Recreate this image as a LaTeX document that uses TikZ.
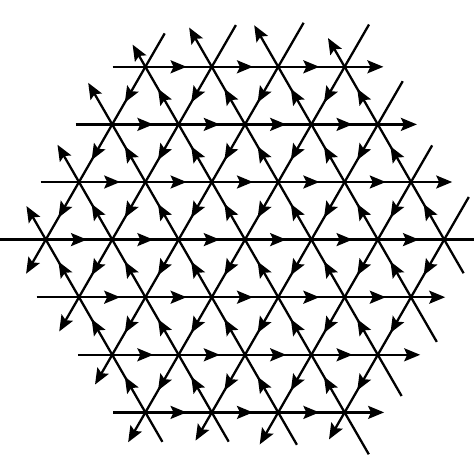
\documentclass[tikz,border=0pt]{standalone}
\usetikzlibrary{arrows.meta,decorations.markings,calc}
\tikzset{
  lat/.style={line width=2.3pt, black},
  midarrow/.style={lat, postaction={decorate},
    decoration={markings, mark=at position 0.62 with {\arrow{Stealth[length=16pt,width=13pt,inset=3pt]}}}},
  endarrow/.style={lat, -{Stealth[length=16pt,width=13pt,inset=3pt]}},
}
\begin{document}
\begin{tikzpicture}[x=1pt,y=-1pt]
\useasboundingbox (0,0) rectangle (474,474);
\def\A{66.4}\def\H{57.6}\def\CX{245}\def\CY{239.6}
% lattice vertices v<Q><R>, Q=q+3, R=r+3
\foreach \q in {-3,...,3}{
  \foreach \r in {-3,...,3}{
    \pgfmathtruncatemacro\s{abs(\q+\r)}
    \ifnum\s<4
      \pgfmathtruncatemacro\Q{\q+3}
      \pgfmathtruncatemacro\R{\r+3}
      \coordinate (v\Q\R) at ({\CX+(\q+\r/2)*\A},{\CY+\r*\H});
    \fi
  }
}
% horizontal lines (arrows to the right)
\foreach \r/\eL/\eR in {-3/32.9/38.8, -2/36.7/39.1, -1/38.3/41.2, 1/42.3/34.2, 2/34.4/42.4, 3/32.3/39.5}{
  \pgfmathtruncatemacro\qa{max(-3,-3-\r)}
  \pgfmathtruncatemacro\qb{min(3,3-\r)}
  \pgfmathtruncatemacro\R{\r+3}
  \pgfmathtruncatemacro\Qa{\qa+3}
  \pgfmathtruncatemacro\Qb{\qb+3}
  \pgfmathtruncatemacro\Qc{\Qb-1}
  \coordinate (hl\R) at ($(v\Qa\R)+(-\eL,0)$);
  \coordinate (hr\R) at ($(v\Qb\R)+(\eR,0)$);
  \draw[lat] (hl\R) -- (v\Qa\R);
  \foreach \Q in {\Qa,...,\Qc}{
    \pgfmathtruncatemacro\Qn{\Q+1}
    \draw[midarrow] (v\Q\R) -- (v\Qn\R);
  }
  \draw[endarrow] (v\Qb\R) -- (hr\R);
}
% middle horizontal line, across the whole width
\coordinate (hl3) at (0,\CY);
\coordinate (hr3) at (474,\CY);
\draw[lat] (hl3) -- (v03);
\foreach \Q in {0,...,5}{
  \pgfmathtruncatemacro\Qn{\Q+1}
  \draw[midarrow] (v\Q3) -- (v\Qn3);
}
\draw[lat] (v63) -- (hr3);
% "\" lines (constant q), arrows up-left
\foreach \q/\eT/\eB in {-3/38.7/34, -2/43/33.8, -1/48/37.4, 0/25.6/48.4, 1/45.3/47.6, 2/48/51.6, 3/33.2/38.8}{
  \pgfmathtruncatemacro\Q{\q+3}
  \pgfmathtruncatemacro\Ra{max(-3,-3-\q)+3}
  \pgfmathtruncatemacro\Rb{min(3,3-\q)+3}
  \pgfmathtruncatemacro\Rc{\Rb-1}
  \coordinate (bt\Q) at ($(v\Q\Ra)+({-0.5*\eT},{-0.866*\eT})$);
  \coordinate (bb\Q) at ($(v\Q\Rb)+({0.5*\eB},{0.866*\eB})$);
  \draw[endarrow] (v\Q\Ra) -- (bt\Q);
  \foreach \R in {\Ra,...,\Rc}{
    \pgfmathtruncatemacro\Rn{\R+1}
    \draw[midarrow] (v\Q\Rn) -- (v\Q\R);
  }
  \draw[lat] (v\Q\Rb) -- (bb\Q);
}
% "/" lines (constant n=q+r), arrows down-left
\foreach \n/\eT/\eB in {-3/38.6/39.4, -2/48.2/39.6, -1/50.8/34.3, 0/48.8/34.5, 1/49.9/32.6, 2/42.3/37, 3/49.2/31.2}{
  \pgfmathtruncatemacro\N{\n+3}
  \pgfmathtruncatemacro\ra{max(-3,\n-3)}
  \pgfmathtruncatemacro\rb{min(3,\n+3)}
  \pgfmathtruncatemacro\Ra{\ra+3}
  \pgfmathtruncatemacro\Rb{\rb+3}
  \pgfmathtruncatemacro\Qa{\n-\ra+3}
  \pgfmathtruncatemacro\Qb{\n-\rb+3}
  \pgfmathtruncatemacro\rc{\rb-1}
  \coordinate (st\N) at ($(v\Qa\Ra)+({0.5*\eT},{-0.866*\eT})$);
  \coordinate (sb\N) at ($(v\Qb\Rb)+({-0.5*\eB},{0.866*\eB})$);
  \draw[lat] (st\N) -- (v\Qa\Ra);
  \foreach \r in {\ra,...,\rc}{
    \pgfmathtruncatemacro\Q{\n-\r+3}
    \pgfmathtruncatemacro\Qm{\Q-1}
    \pgfmathtruncatemacro\R{\r+3}
    \pgfmathtruncatemacro\Rn{\R+1}
    \draw[midarrow] (v\Q\R) -- (v\Qm\Rn);
  }
  \draw[endarrow] (v\Qb\Rb) -- (sb\N);
}
\end{tikzpicture}
\end{document}
